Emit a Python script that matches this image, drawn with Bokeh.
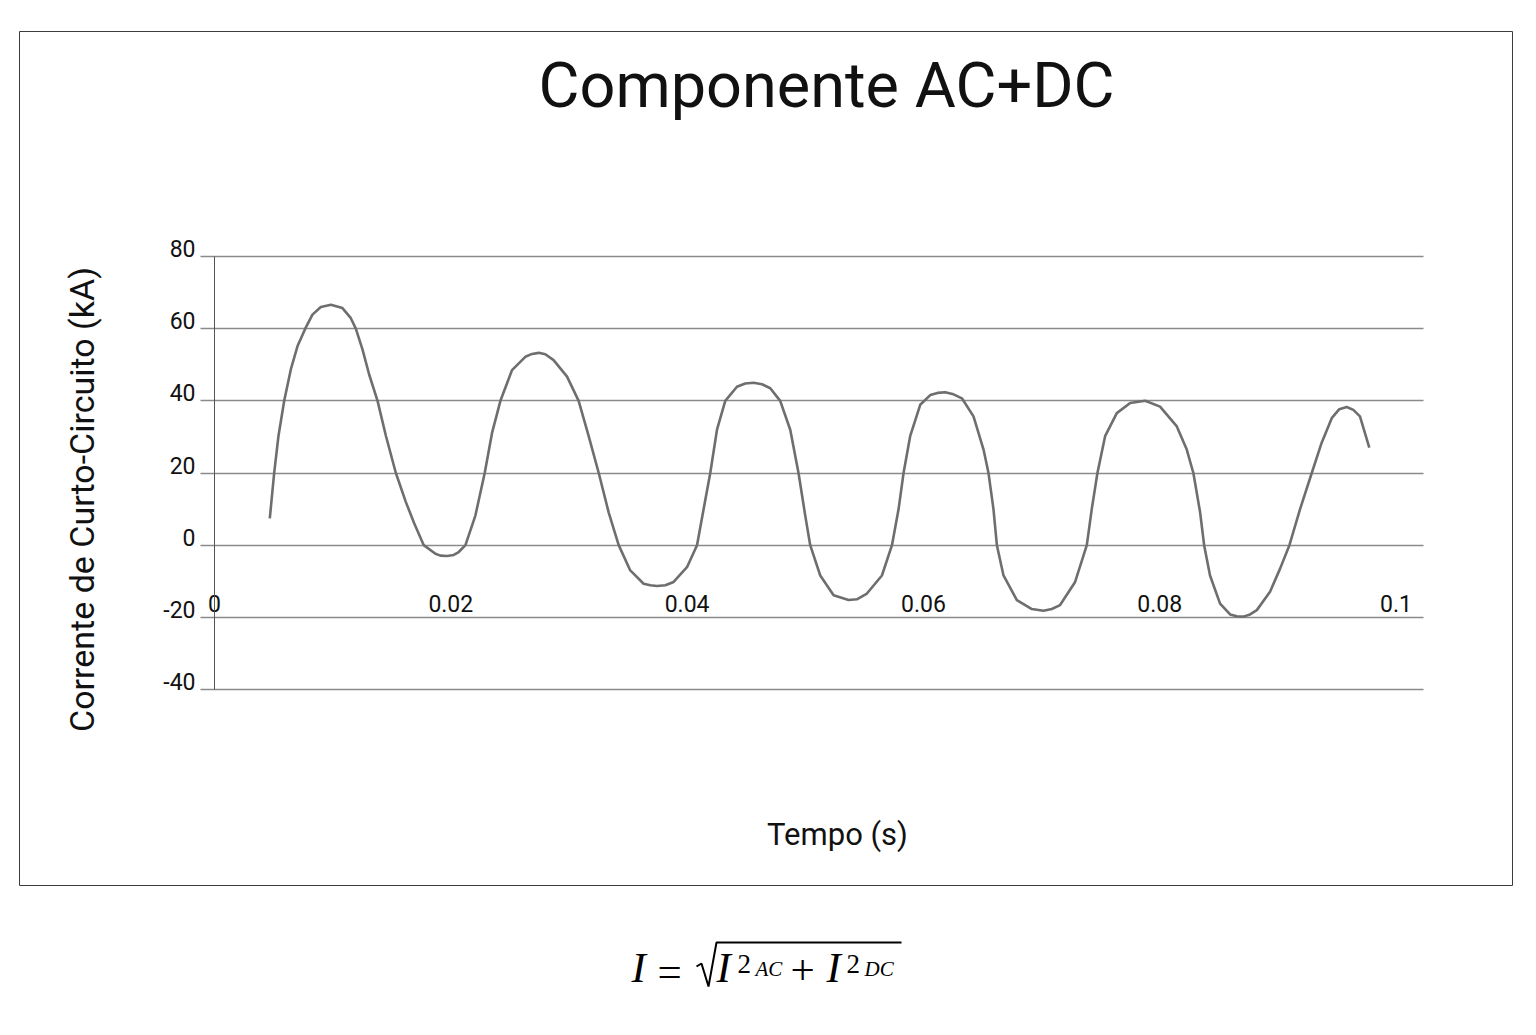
import math
from bokeh.plotting import figure
from bokeh.models import Range1d, FixedTicker, NumeralTickFormatter
from bokeh.layouts import column
from bokeh.embed import file_html
from bokeh.resources import INLINE
from bokeh.core.properties import value

# ---------------- data ----------------
t_s = [0.00468, 0.00505, 0.00542, 0.00590, 0.00646, 0.00702, 0.00768, 0.00829,
       0.00900, 0.00985, 0.01083, 0.01154, 0.01196, 0.01253, 0.01309, 0.01380,
       0.01450, 0.01535, 0.01619, 0.01690, 0.01771, 0.01870, 0.01912, 0.01969,
       0.02025, 0.02067, 0.02124, 0.02208, 0.02287, 0.02349, 0.02420, 0.02518,
       0.02631, 0.02688, 0.02744, 0.02800, 0.02870, 0.02984, 0.03082, 0.03167,
       0.03252, 0.03336, 0.03421, 0.03519, 0.03632, 0.03689, 0.03745, 0.03816,
       0.03886, 0.03999, 0.04084, 0.04140, 0.04196, 0.04253, 0.04323, 0.04422,
       0.04492, 0.04563, 0.04634, 0.04704, 0.04788, 0.04873, 0.04943, 0.05000,
       0.05042, 0.05127, 0.05240, 0.05367, 0.05437, 0.05522, 0.05649, 0.05734,
       0.05790, 0.05832, 0.05888, 0.05973, 0.06058, 0.06120, 0.06184, 0.06255,
       0.06326, 0.06424, 0.06509, 0.06551, 0.06593, 0.06622, 0.06678, 0.06791,
       0.06918, 0.07016, 0.07087, 0.07157, 0.07284, 0.07383, 0.07425, 0.07473,
       0.07538, 0.07637, 0.07750, 0.07877, 0.08003, 0.08145, 0.08229, 0.08285,
       0.08342, 0.08376, 0.08426, 0.08511, 0.08596, 0.08652, 0.08709, 0.08765,
       0.08822, 0.08934, 0.09019, 0.09098, 0.09188, 0.09287, 0.09371, 0.09456,
       0.09520, 0.09583, 0.09639, 0.09695, 0.09774]
i_ka = [7.4, 20.0, 30.4, 40.0, 48.7, 55.1, 60.0, 63.9,
        66.0, 66.6, 65.7, 62.9, 60.0, 54.2, 47.3, 40.0,
        30.4, 20.0, 12.0, 6.1, 0.0, -2.4, -2.9, -3.0,
        -2.7, -1.9, 0.0, 8.2, 20.0, 31.1, 40.0, 48.5,
        52.2, 53.0, 53.3, 52.9, 51.3, 46.7, 40.0, 30.2,
        20.0, 9.1, 0.0, -7.0, -10.7, -11.1, -11.3, -11.1,
        -10.2, -6.1, 0.0, 10.0, 20.0, 32.0, 40.0, 43.9,
        44.8, 45.0, 44.6, 43.5, 40.0, 32.0, 20.0, 8.2,
        0.0, -8.4, -13.9, -15.2, -15.0, -13.4, -8.4, 0.0,
        10.0, 20.0, 30.2, 38.9, 41.6, 42.2, 42.4, 41.8,
        40.7, 35.7, 26.5, 20.0, 10.0, 0.0, -8.4, -15.2,
        -17.7, -18.2, -17.7, -16.6, -10.2, 0.0, 10.0, 20.0,
        30.2, 36.6, 39.4, 40.0, 38.4, 32.9, 26.5, 20.0,
        9.1, 0.0, -8.4, -16.2, -19.2, -19.7, -19.8, -19.2,
        -18.0, -12.9, -6.5, 0.0, 10.0, 20.0, 28.4, 35.2,
        37.7, 38.3, 37.5, 35.7, 27.0]

y_ticks = [-40, -20, 0, 20, 40, 60, 80]
y_tick_labels = ["-40", "-20", "0", "20", "40", "60", "80"]
x_ticks = [0, 0.02, 0.04, 0.06, 0.08, 0.1]
x_tick_labels = ["0", "0.02", "0.04", "0.06", "0.08", "0.1"]
x_axis_cross = -20
title_text = "Componente AC+DC"
x_label = "Tempo (s)"
y_label = "Corrente de Curto-Circuito (kA)"

# ---------------- geometry (page pixels -> data) ----------------
FONT = "Roboto"
W, H1, H2 = 1520, 900, 110
BOX_L, BOX_T, BOX_R, BOX_B = 19, 31, 1512, 885      # chart border
PX_X0, PX_PER_X = 214, 11815.0                      # x = 0 at px 214
PX_Y80, PX_YM40 = 256, 689                          # y gridlines 80 / -40
PX_PER_Y = (PX_YM40 - PX_Y80) / 120.0
GRID_START_PX, GRID_END_PX = 200, 1423


def px2x(px):
    return (px - PX_X0) / PX_PER_X


def px2y(py):
    return 80 - (py - PX_Y80) / PX_PER_Y


p = figure(width=W, height=H1, output_backend="svg", toolbar_location=None,
           x_range=Range1d(px2x(BOX_L), px2x(BOX_R)),
           y_range=Range1d(px2y(BOX_B), px2y(BOX_T)),
           x_axis_location="above", y_axis_location="left",
           min_border_left=BOX_L, min_border_top=BOX_T,
           min_border_right=W - BOX_R, min_border_bottom=H1 - BOX_B)
p.title.visible = False
p.outline_line_color = "#3c3c3c"
p.outline_line_width = 1
p.background_fill_color = "white"
p.border_fill_color = "white"

GRID = "#8a8a8a"
p.xgrid.visible = False
g = p.ygrid[0]
if "cross_bounds" in g.properties():
    g.ticker = FixedTicker(ticks=y_ticks)
    g.cross_bounds = (px2x(GRID_START_PX), px2x(GRID_END_PX))
    g.grid_line_color = GRID
    g.grid_line_width = 1.3
else:
    g.visible = False
    p.segment(x0=[px2x(GRID_START_PX)] * len(y_ticks),
              x1=[px2x(GRID_END_PX)] * len(y_ticks),
              y0=y_ticks, y1=y_ticks, line_color=GRID, line_width=1.3)

# y axis line at x = 0 (tick marks come from the gridlines reaching past it)
ya = p.yaxis[0]
ya.fixed_location = 0
ya.bounds = (y_ticks[0], y_ticks[-1])
ya.ticker = FixedTicker(ticks=[])
ya.axis_line_color = "#555555"
ya.axis_line_width = 1
ya.major_tick_out = 0
ya.major_tick_in = 0
ya.minor_tick_out = 0
ya.minor_tick_in = 0

# y tick labels, sitting just above their gridline
p.text(x=[0] * len(y_ticks), y=y_ticks, text=y_tick_labels, x_offset=-19,
       y_offset=-8, text_align="right", text_baseline="middle",
       text_font=value(FONT), text_font_size="23px", text_color="#111111")

# x axis: labels sitting just above the -20 line
xa = p.xaxis[0]
xa.fixed_location = x_axis_cross
xa.ticker = FixedTicker(ticks=x_ticks)
xa.formatter = NumeralTickFormatter(format="0.[00]")
xa.major_label_overrides = dict(zip(x_ticks, x_tick_labels))
xa.axis_line_color = None
xa.major_tick_out = 0
xa.major_tick_in = 0
xa.minor_tick_out = 0
xa.minor_tick_in = 0
xa.major_label_standoff = 5
xa.major_label_text_font = FONT
xa.major_label_text_font_size = "23px"
xa.major_label_text_color = "#111111"

# title and axis titles
p.text(x=[px2x(826)], y=[px2y(85)], text=[title_text], text_align="center",
       text_baseline="middle", text_font=value(FONT), text_font_size="63px",
       text_color="#111111")
p.text(x=[px2x(837)], y=[px2y(834)], text=[x_label], text_align="center",
       text_baseline="middle", text_font=value(FONT), text_font_size="31px",
       text_color="#111111")
p.text(x=[px2x(81)], y=[px2y(499)], text=[y_label], angle=math.pi / 2,
       text_align="center", text_baseline="middle", text_font=value(FONT),
       text_font_size="34px", text_color="#111111")

# curve
p.line(t_s, i_ka, line_color="#6e6e6e", line_width=2.6, line_join="round")

# ---------------- formula ----------------
f = figure(width=W, height=H2, output_backend="svg", toolbar_location=None,
           x_range=Range1d(BOX_L, BOX_R), y_range=Range1d(H2, 0),
           x_axis_location=None, y_axis_location=None,
           min_border_left=BOX_L, min_border_right=W - BOX_R,
           min_border_top=0, min_border_bottom=0)
f.title.visible = False
f.grid.visible = False
f.outline_line_color = None
SERIF = "Liberation Serif"
f.text(x=[631, 716, 826], y=[67] * 3, text=["I", "I", "I"], text_font=value(SERIF),
       text_font_style="italic", text_font_size="43px", text_baseline="middle")
f.text(x=[657, 790], y=[71, 69], text=["=", "+"], text_font=value(SERIF),
       text_font_size="43px", text_baseline="middle")
f.line(x=[696, 701, 708, 716, 901], y=[66, 63, 86, 42, 42], line_color="black",
       line_width=2)
f.text(x=[737, 846], y=[63, 63], text=["2", "2"], text_font=value(SERIF),
       text_font_size="27px", text_baseline="middle")
f.text(x=[755, 864], y=[68, 68], text=["AC", "DC"], text_font=value(SERIF),
       text_font_style="italic", text_font_size="21px", text_baseline="middle")

layout = column(p, f)
open("out.html", "w").write(file_html(layout, INLINE))
